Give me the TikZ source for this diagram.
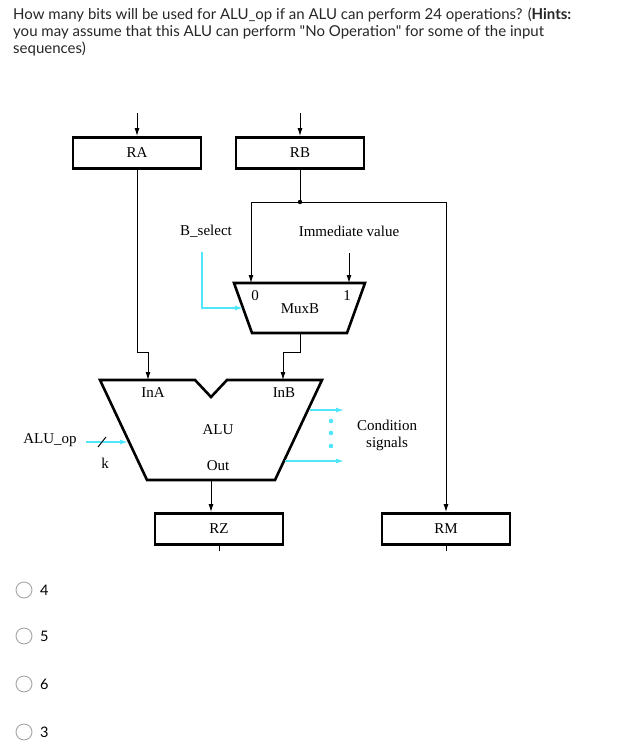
\documentclass[tikz,border=0pt]{standalone}
\usepackage{fontspec}
\setmainfont{Liberation Serif}
\newfontfamily\qfont{Lato}
\usetikzlibrary{arrows.meta}
\definecolor{sigcyan}{RGB}{80,230,250}
\begin{document}
\begin{tikzpicture}[x=1pt,y=-1pt,
  reg/.style={draw,line width=2.8pt,minimum width=128pt,minimum height=31pt,inner sep=0pt,font=\fontsize{15}{15}\selectfont},
  lbl/.style={font=\fontsize{15}{16}\selectfont,inner sep=1pt},
  wire/.style={line width=1pt},
  arr/.style={wire,-{Latex[length=8pt,width=5pt]}},
  carr/.style={line width=1.2pt,sigcyan,-{Latex[length=8pt,width=5pt]}},
  opt/.style={draw=gray!70,line width=0.9pt,circle,minimum size=16pt,inner sep=0pt},
  opttxt/.style={font=\qfont\fontsize{14.5}{14.5}\selectfont,anchor=west,inner sep=0pt}]
\useasboundingbox (0,0) rectangle (620,755);
\node[anchor=north west,inner sep=0pt,align=left,
  font=\qfont\fontsize{15}{17}\selectfont,text=black!85] (q) at (13,8)
  {How many bits will be used for ALU\_op if an ALU can perform 24 operations? (\textbf{Hints:}\\
   you may assume that this ALU can perform "No Operation" for some of the input\\
   sequences)};
% registers
\node[reg] (ra) at (137,153) {RA};
\node[reg] (rb) at (300,153) {RB};
\node[reg] (rz) at (219,529) {RZ};
\node[reg] (rm) at (446,529) {RM};
\coordinate (rain) at (137,113);
\coordinate (rbin) at (300,113);
\draw[arr] (rain) -- (ra.north);
\draw[arr] (rbin) -- (rb.north);
\draw[wire] (rz.south) -- ++(0,5);
\draw[wire] (rm.south) -- ++(0,5);
% MuxB
\draw[line width=2.6pt,line join=miter] (234,283) -- (365,283) -- (347,333) -- (252,333) -- cycle;
\node[lbl] (m0) at (255,296) {0};
\node[lbl] (m1) at (347,296) {1};
\node[lbl] (mux) at (300,309) {MuxB};
\coordinate (mux0) at (251,283);
\coordinate (mux1) at (349,283);
\coordinate (muxsel) at (243,308);
\coordinate (muxout) at (300,333);
% ALU
\draw[line width=2.6pt,line join=miter] (100,380) -- (195,380) -- (211,397) -- (227,380) -- (322,380) -- (275,480) -- (147,480) -- cycle;
\node[lbl] (ina) at (153,393) {InA};
\node[lbl] (inb) at (284,393) {InB};
\node[lbl] (alu) at (218,430) {ALU};
\node[lbl] (out) at (218,466) {Out};
\coordinate (aluA) at (148,380);
\coordinate (aluB) at (283,380);
\coordinate (aluop) at (128,442);
\coordinate (aluout) at (211,480);
% labels
\node[lbl] (bsel) at (206,231) {B\_select};
\node[lbl] (imm) at (349,231) {Immediate value};
\node[lbl] (opl) at (50,440) {ALU\_op};
\node[lbl] (k) at (105,463) {k};
\node[lbl,align=center,font=\fontsize{15}{17}\selectfont] (cond) at (387,435) {Condition\\signals};
% wires
\coordinate (split) at (300,202);
\draw[arr] (ra.south) -- (137,352) -- (148,352) -- (aluA);
\draw[wire] (rb.south) -- (split);
\fill (split) circle (2.2pt);
\draw[arr] (split) -- (251,202) -- (mux0);
\draw[arr] (split) -- (446,202) -- (rm.north);
\draw[arr] (349,253) -- (mux1);
\draw[arr] (muxout) -- (300,352) -- (283,352) -- (aluB);
\draw[arr] (aluout) -- (aluout |- rz.north);
\draw[carr] (202,252) -- (202,308) -- (muxsel);
\draw[carr] (86,442) -- (aluop);
\draw[wire] (98,447) -- (106,437);
\draw[carr] (310,410) -- (344,410);
\draw[carr] (285,461) -- (344,461);
\foreach \yy in {421,433,446} \fill[sigcyan] (331,\yy) circle (2.3pt);
% options
\foreach \i/\yy/\t in {1/590/4,2/636/5,3/684/6,4/732/3}{
  \node[opt] (o\i) at (24,\yy) {};
  \node[opttxt] (t\i) at (40,\yy) {\t};
}
\end{tikzpicture}
\end{document}
